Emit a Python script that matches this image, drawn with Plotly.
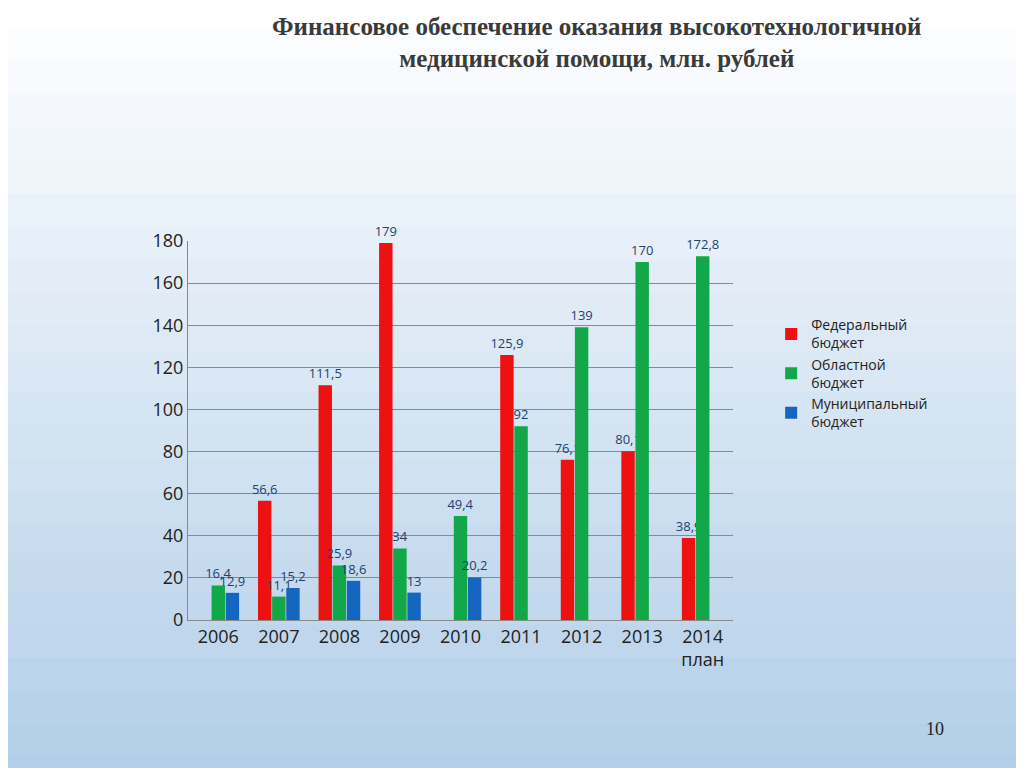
import plotly.graph_objects as go

years = ["2006", "2007", "2008", "2009", "2010", "2011", "2012", "2013", "2014<br>план"]
federal = [None, 56.6, 111.5, 179, None, 125.9, 76.1, 80.1, 38.9]
regional = [16.4, 11.1, 25.9, 34, 49.4, 92, 139, 170, 172.8]
municipal = [12.9, 15.2, 18.6, 13, 20.2, None, None, None, None]
names = ["Федеральный<br>бюджет", "Областной<br>бюджет", "Муниципальный<br>бюджет"]
colors = ["#ee1111", "#12a84a", "#1566c0"]

def lab(v):
    return "" if v is None else (f"{v:g}".replace(".", ","))

fig = go.Figure()
for vals, nm, c in zip([federal, regional, municipal], names, colors):
    fig.add_trace(go.Bar(x=years, y=vals, name=nm, marker_color=c,
                         marker_line_width=0,
                         text=[lab(v) for v in vals], textposition="outside",
                         constraintext="none",
                         textfont=dict(color="#1f3f6f", size=13, family="Open Sans"),
                         cliponaxis=False))

shapes = []
n = 24
top, bot = 1.65, -0.45
for i in range(n):
    t = i / (n - 1)
    r = int(255 - t * (255 - 178))
    g = int(255 - t * (255 - 206))
    b = int(255 - t * (255 - 232))
    shapes.append(dict(type="rect", xref="paper", yref="paper", layer="below",
                       x0=-0.5, x1=1.7, y0=top - (i + 1) * (top - bot) / n - 0.005,
                       y1=top - i * (top - bot) / n,
                       fillcolor=f"rgb({r},{g},{b})", line_width=0))

fig.update_layout(
    width=1024, height=768, barmode="group", bargap=0.3, bargroupgap=0.05,
    paper_bgcolor="#f4f8fc", plot_bgcolor="rgba(0,0,0,0)",
    margin=dict(l=180, r=299, t=233, b=156),
    shapes=shapes,
    title=dict(text="<b>Финансовое обеспечение оказания высокотехнологичной<br>медицинской помощи, млн. рублей</b>",
               x=0.575, xanchor="center", y=0.965, yanchor="top",
               font=dict(family="Liberation Serif", size=25, color="#3a3a3a")),
    xaxis=dict(tickfont=dict(size=18, color="#222", family="Open Sans"), showline=True,
               linecolor="#888", ticks=""),
    yaxis=dict(range=[0, 180], dtick=20, tickfont=dict(size=18, color="#222", family="Open Sans"),
               gridcolor="#8a8a8a", showline=True, linecolor="#888", zeroline=False),
    legend=dict(x=1.07, y=0.82, yanchor="top", tracegroupgap=50, bgcolor="rgba(0,0,0,0)",
                font=dict(size=14, color="#222", family="Open Sans")),
    showlegend=True,
    annotations=[dict(text="10", xref="paper", yref="paper", x=1.39, y=-0.32,
                      showarrow=False, font=dict(family="Liberation Serif", size=18, color="#222"))],
)
fig.write_html("out.html")
